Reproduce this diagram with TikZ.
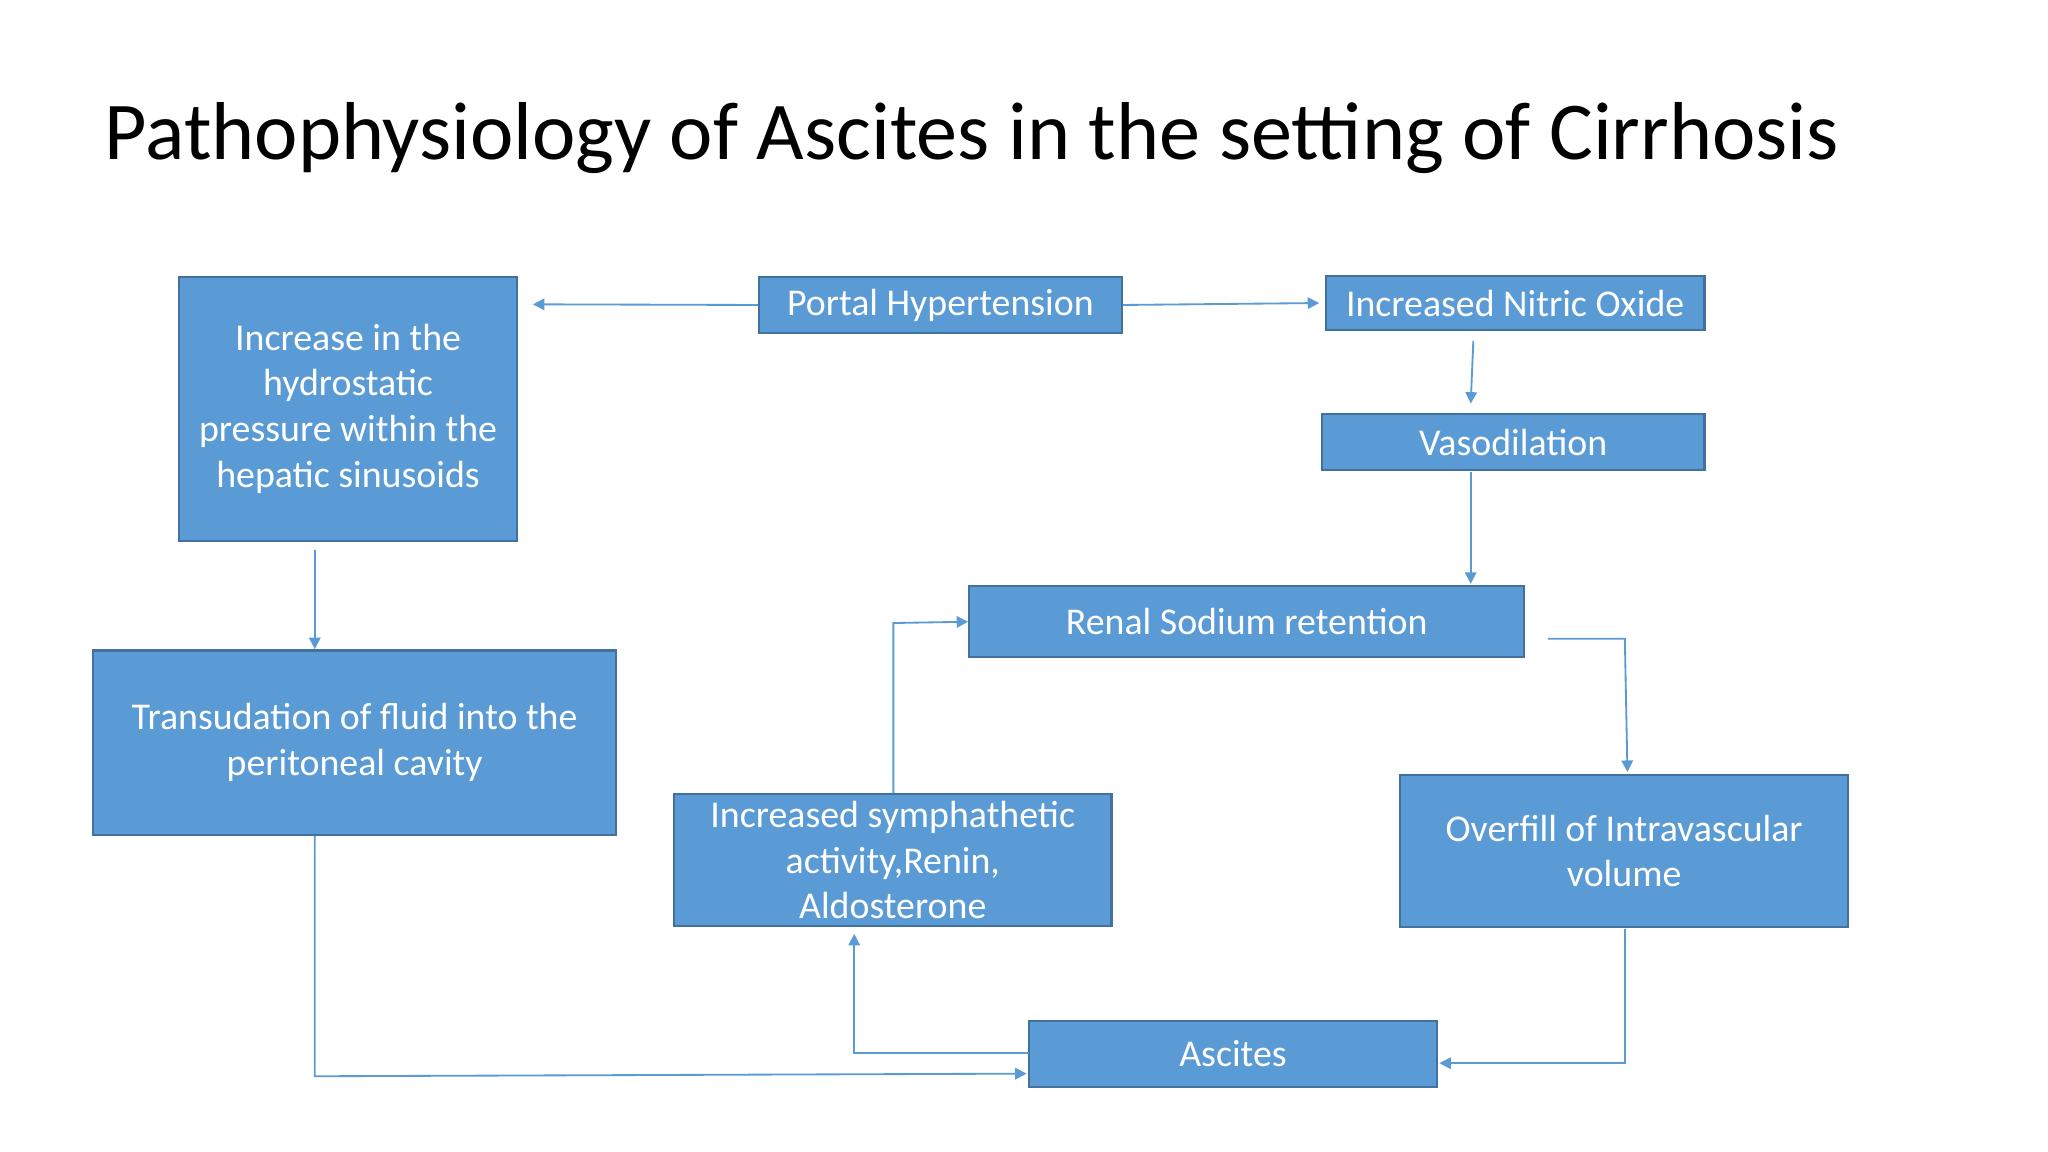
\documentclass[tikz,border=0pt]{standalone}
\usepackage{fontspec}
\setmainfont{Carlito}
\usetikzlibrary{arrows.meta}
\definecolor{boxfill}{HTML}{5B9BD5}
\definecolor{boxline}{HTML}{41719C}
\tikzset{
 box/.style={draw=boxline, fill=boxfill, line width=0.9pt, text=white, align=center, font=\fontsize{16.5}{20}\selectfont, inner sep=2pt},
 conn/.style={draw=boxfill, line width=0.8pt, -{Triangle[length=5pt,width=5pt]}}
}
\begin{document}
\begin{tikzpicture}[x=0.02cm,y=-0.02cm]
\useasboundingbox[fill=white] (0,0) rectangle (1568,882);
\node[anchor=west, font=\fontsize{35.8}{42}\selectfont] (title) at (74,106) {Pathophysiology of Ascites in the setting of Cirrhosis};
\node[box, minimum width=5.18cm, minimum height=4.04cm] (hydro) at (266.5,313) {Increase in the\\ hydrostatic\\ pressure within the\\ hepatic sinusoids};
\node[box, minimum width=5.56cm, minimum height=0.86cm] (portal) at (720,233.5) {Portal Hypertension};
\node[box, minimum width=5.8cm, minimum height=0.84cm] (no) at (1160,232) {Increased Nitric Oxide};
\node[box, minimum width=5.86cm, minimum height=0.86cm] (vaso) at (1158.5,338.5) {Vasodilation};
\node[box, minimum width=8.5cm, minimum height=1.08cm] (renal) at (954.5,476) {Renal Sodium retention};
\node[box, minimum width=8.02cm, minimum height=2.82cm] (trans) at (271.5,568.5) {Transudation of fluid into the\\ peritoneal cavity};
\node[box, minimum width=6.7cm, minimum height=2.02cm] (symp) at (683.5,658.5) {Increased symphathetic\\ activity,Renin,\\ Aldosterone};
\node[box, minimum width=6.86cm, minimum height=2.34cm] (over) at (1243.5,651.5) {Overfill of Intravascular\\ volume};
\node[box, minimum width=6.24cm, minimum height=1.0cm] (asc) at (944,807) {Ascites};
\coordinate (pl) at (408,233);
\coordinate (pr) at (1010,232);
\draw[conn] (portal.west) -- (pl);
\draw[conn] (portal.east) -- (pr);
\coordinate (n1) at (1128,261); \coordinate (n2) at (1126,309);
\draw[conn] (n1) -- (n2);
\draw[conn] (1126,361) -- (1126,447);
\draw[conn] (241,421) -- (241,497);
\draw[conn] (1185,489) -- (1244,489) -- (1246,591);
\draw[conn] (241,640) -- (241,824) -- (786,822);
\draw[conn] (684,607) -- (684,477) -- (renal.west);
\draw[conn] (788,806) -- (654,806) -- (654,715);
\draw[conn] (1244,711) -- (1244,814) -- (1102,814);
\end{tikzpicture}
\end{document}
